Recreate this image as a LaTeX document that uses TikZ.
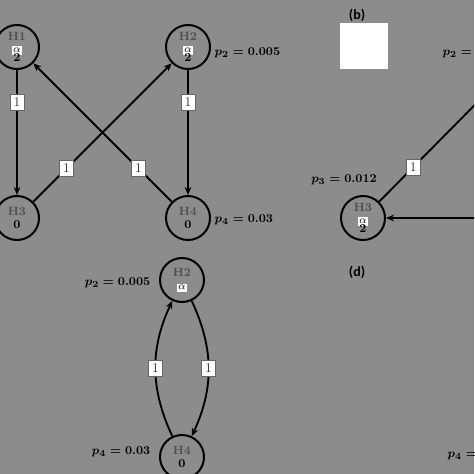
\documentclass[tikz,border=0pt]{standalone}
\usepackage{fontspec}
\newfontfamily\panelfont{Carlito}
\usetikzlibrary{arrows.meta}
\definecolor{bggray}{RGB}{140,140,140}
\definecolor{hgray}{RGB}{80,80,80}
\newcommand{\alphabox}{{\fontsize{8.5}{8.5}\selectfont\setlength{\fboxsep}{1.3pt}\colorbox{white}{$\alpha$}}}

\begin{document}
\begin{tikzpicture}[x=0.75pt,y=-0.75pt,
  hnode/.style={circle,draw=black,line width=1.5pt,minimum size=33pt,inner sep=0pt,
    align=center,font=\fontsize{9}{9}\selectfont\bfseries},
  wbox/.style={fill=white,draw=black!60,line width=0.4pt,inner sep=2.6pt,
    font=\fontsize{10}{10}\selectfont,text=black!80},
  plab/.style={font=\fontsize{9.4}{12}\selectfont\boldmath},
  panel/.style={font=\panelfont\bfseries\fontsize{10.5}{12}\selectfont},
  link/.style={line width=1.4pt,-{Stealth[length=6pt,width=5pt]}}]
\useasboundingbox (0,0) rectangle (474,474);
\clip (0,0) rectangle (474,474);
\fill[bggray] (0,0) rectangle (474,474);

% (a)
\node[hnode] (a1) at (17,47) {\textcolor{hgray}{H1}\\\alphabox\\[-2.5pt]2};
\node[hnode] (a2) at (188,47) {\textcolor{hgray}{H2}\\\alphabox\\[-2.5pt]2};
\node[hnode] (a3) at (17,218) {\textcolor{hgray}{H3}\\[1pt]0};
\node[hnode] (a4) at (188,218) {\textcolor{hgray}{H4}\\[1pt]0};
\draw[link] (a1) -- (a3) node[wbox,pos=0.26] (w13) {1};
\draw[link] (a2) -- (a4) node[wbox,pos=0.26] (w24) {1};
\draw[link] (a3) -- (a2) node[wbox,pos=0.24] (w32) {1};
\draw[link] (a4) -- (a1) node[wbox,pos=0.24] (w41) {1};
\node[plab,anchor=west] (pa2) at (210,53) {$p_2 = 0.005$};
\node[plab,anchor=west] (pa4) at (210,220) {$p_4 = 0.03$};

% (b)
\node[panel] (lb) at (357,15) {(b)};
\fill[white] (340,23) rectangle (388,69);
\node[hnode] (b3) at (363,218) {\textcolor{hgray}{H3}\\\alphabox\\[-2.5pt]2};
\coordinate (b2) at (534,45);
\coordinate (b4) at (534,218);
\draw[link] (b3) -- (b2) node[wbox,pos=0.22] (wb32) {1};
\draw[link] (b4) -- (b3);
\node[plab,anchor=west] (pb2) at (438,53) {$p_2 = 0.005$};
\node[plab] (pb3) at (344,180) {$p_3 = 0.012$};

% (c)
\node[hnode] (c2) at (182,280) {\textcolor{hgray}{H2}\\[1pt]\alphabox};
\node[hnode] (c4) at (182,457) {\textcolor{hgray}{H4}\\[1pt]0};
\draw[link] (c4) to[bend left=25] node[wbox] (wc42) {1} (c2);
\draw[link] (c2) to[bend left=25] node[wbox] (wc24) {1} (c4);
\node[plab,anchor=east] (pc2) at (155,283) {$p_2 = 0.005$};
\node[plab,anchor=east] (pc4) at (155,452) {$p_4 = 0.03$};

% (d)
\node[panel] (ld) at (357,272) {(d)};
\node[plab,anchor=west] (pd4) at (443,455) {$p_4 = 0.03$};
\end{tikzpicture}
\end{document}
